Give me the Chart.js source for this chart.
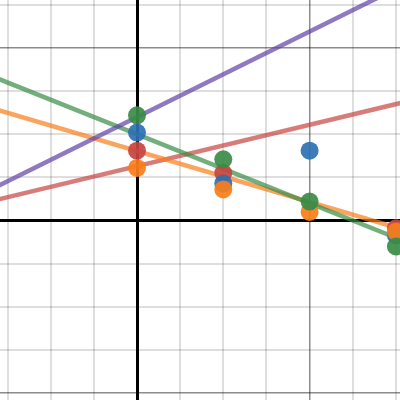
<!DOCTYPE html>
<html>
<head>
<meta charset="utf-8">
<script src="https://cdn.jsdelivr.net/npm/chart.js@4/dist/chart.umd.min.js"></script>
<style>
  html, body { margin: 0; padding: 0; background: #fff; }
  #wrap { width: 400px; height: 400px; }
</style>
</head>
<body>
<div id="wrap"><canvas id="graph"></canvas></div>
<script>
// points, x values shared by every series
var pointX = [0, 1, 2, 3];
var redPoints = [0.81, 0.55, null, -0.09];
var bluePoints = [1.02, 0.43, 0.81, -0.17];
var greenPoints = [1.22, 0.71, 0.22, -0.30];
var orangePoints = [0.61, 0.36, 0.10, -0.13];

// straight lines, given by their two ends (past the edges, clipped)
var lineX = [-1.6, 3.1];
var purpleLine = [0.406, 2.737];
var redLine = [0.246, 1.374];
var greenLine = [1.64, -0.24];
var orangeLine = [1.277, -0.11];

// view window
var xRange = [-1.5875, 3.0475];
var yRange = [-2.081, 2.557];

function toXY(xs, ys) {
	var out = [];
	for (var i = 0; i < xs.length; i++) {
		if (ys[i] !== null) out.push({ x: xs[i], y: ys[i] });
	}
	return out;
}

function pointSet(values, color, order) {
	return {
		data: toXY(pointX, values),
		showLine: false,
		pointRadius: 9,
		pointBorderWidth: 0,
		pointBackgroundColor: color,
		order: order
	};
}

function lineSet(values, color, order) {
	return {
		data: toXY(lineX, values),
		showLine: true,
		borderColor: color,
		borderWidth: 4.5,
		pointRadius: 0,
		fill: false,
		order: order
	};
}

function gridColor(ctx) {
	var v = ctx.tick.value;
	if (Math.abs(v) < 1e-9) return '#000';
	if (Math.abs(v / 2 - Math.round(v / 2)) < 1e-9) return 'rgba(0,0,0,0.45)';
	return 'rgba(0,0,0,0.13)';
}

function gridWidth(ctx) {
	var v = ctx.tick.value;
	if (Math.abs(v) < 1e-9) return 3;
	if (Math.abs(v / 2 - Math.round(v / 2)) < 1e-9) return 1.5;
	return 2;
}

function axis(range, horizontal) {
	return {
		type: 'linear',
		min: range[0],
		max: range[1],
		ticks: { display: false, stepSize: 0.5, includeBounds: false, padding: 0 },
		grid: { color: gridColor, lineWidth: gridWidth, drawTicks: false },
		border: { display: false },
		afterFit: function(scale) {	// no room for the axis itself, grid fills the canvas
			if (horizontal) scale.height = 0;
			else scale.width = 0;
		}
	};
}

new Chart(document.getElementById('graph').getContext('2d'), {
	type: 'scatter',
	data: {
		datasets: [
			pointSet(greenPoints, 'rgba(56,140,70,0.92)', 1),
			pointSet(orangePoints, 'rgba(250,126,25,0.92)', 2),
			pointSet(bluePoints, 'rgba(45,112,179,0.92)', 3),
			pointSet(redPoints, 'rgba(199,68,64,0.92)', 4),
			lineSet(purpleLine, 'rgba(96,66,166,0.7)', 10),
			lineSet(greenLine, 'rgba(56,140,70,0.7)', 11),
			lineSet(orangeLine, 'rgba(250,126,25,0.7)', 12),
			lineSet(redLine, 'rgba(199,68,64,0.7)', 13)
		]
	},
	options: {
		responsive: true,
		maintainAspectRatio: false,
		animation: false,
		events: [],
		layout: { padding: 0, autoPadding: false },
		plugins: { legend: { display: false }, tooltip: { enabled: false } },
		scales: { x: axis(xRange, true), y: axis(yRange, false) }
	}
});
</script>
</body>
</html>
